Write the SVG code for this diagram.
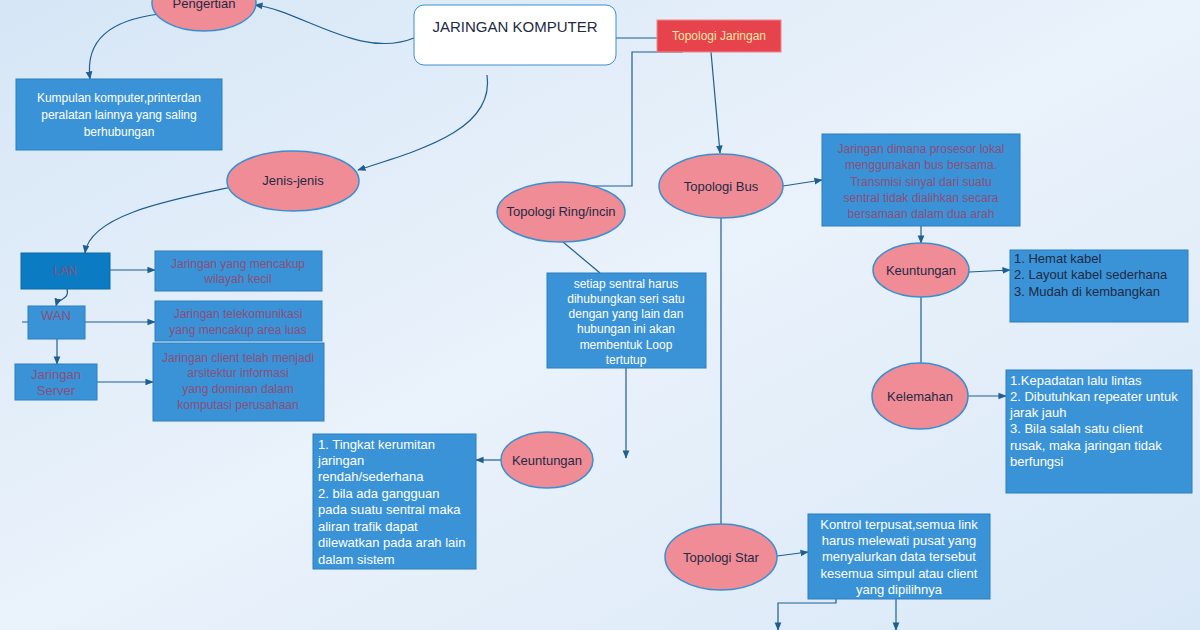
<svg xmlns="http://www.w3.org/2000/svg" width="1200" height="630" viewBox="0 0 1200 630">
<defs>
<linearGradient id="bg" x1="0" y1="0" x2="1" y2="1"><stop offset="0" stop-color="#d6e6f6"/><stop offset="0.5" stop-color="#eaf2fb"/><stop offset="1" stop-color="#d9e8f7"/></linearGradient>
<marker id="ah" viewBox="0 0 10 10" refX="9" refY="5" markerWidth="7" markerHeight="7" orient="auto"><path d="M0,1 L10,5 L0,9 z" fill="#1f5f8f"/></marker>
<style>
.bx{fill:#3b93d7;stroke:#2a7ec0;stroke-width:1}
.el{fill:#ef8c96;stroke:#3a8fd0;stroke-width:1.5}
.c{fill:none;stroke:#1f5f8f;stroke-width:1.2}
.a{marker-end:url(#ah)}
text{font-family:"Liberation Sans",Arial,sans-serif;font-size:12px;text-anchor:middle}
.w{fill:#ffffff}
.d{fill:#1f2a44;font-size:13px}
.p{fill:#8a4f7a}
</style>
</defs>
<rect width="1200" height="630" fill="url(#bg)"/>
<g id="connectors">
<path class="c a" d="M414,38 C360,60 300,10 255,5"/>
<path class="c a" d="M160,14 C110,20 85,40 90,79"/>
<path class="c a" d="M487,75 C495,130 420,150 358,170"/>
<path class="c a" d="M232,187 C170,200 90,215 85,253"/>
<line class="c" x1="616" y1="38" x2="657" y2="38"/>
<polyline class="c" points="683,52 632,52 632,186 578,186"/>
<line class="c a" x1="711" y1="52" x2="720" y2="153"/>
<line class="c a" x1="783" y1="186" x2="822" y2="180"/>
<line class="c" x1="563" y1="242" x2="600" y2="273"/>
<line class="c a" x1="626" y1="368" x2="626" y2="458"/>
<line class="c a" x1="501" y1="460" x2="476" y2="460"/>
<line class="c" x1="721" y1="218" x2="721" y2="524"/>
<line class="c a" x1="777" y1="556" x2="808" y2="552"/>
<line class="c a" x1="921" y1="226" x2="921" y2="243"/>
<line class="c" x1="921" y1="297" x2="921" y2="363"/>
<line class="c a" x1="969" y1="272" x2="1010" y2="270"/>
<line class="c a" x1="968" y1="396" x2="1006" y2="396"/>
<polyline class="c a" points="836,599 836,603 778,603 778,630"/>
<line class="c a" x1="896" y1="599" x2="896" y2="630"/>
<line class="c a" x1="110" y1="270" x2="155" y2="270"/>
<line class="c a" x1="22" y1="322" x2="155" y2="322"/>
<line class="c a" x1="97" y1="382" x2="153" y2="382"/>
<path class="c a" d="M67,289 C70,300 58,298 56,306"/>
<line class="c a" x1="57" y1="339" x2="57" y2="364"/>
</g>
<g id="pengertian"><ellipse class="el" cx="204" cy="3" rx="52" ry="28"/><text x="204" y="8" class="d">Pengertian</text></g>
<g id="jaringan-komputer"><rect x="414" y="5" width="202" height="60" rx="10" fill="#ffffff" stroke="#3a8fd0"/><text x="515" y="32" style="font-size:15px;fill:#1f2a44">JARINGAN KOMPUTER</text></g>
<g id="topologi-jaringan"><rect x="657" y="20" width="124" height="32" fill="#e6434c" stroke="#f08a8a"/><text x="719" y="40" style="fill:#f6e7a8">Topologi Jaringan</text></g>
<g id="kumpulan"><rect class="bx" x="16" y="79" width="206" height="71"/><text class="w" x="119" y="102">Kumpulan komputer,printerdan</text><text class="w" x="119" y="119">peralatan lainnya yang saling</text><text class="w" x="119" y="136">berhubungan</text></g>
<g id="jenis"><ellipse class="el" cx="293" cy="181" rx="66" ry="30"/><text x="293" y="185" class="d">Jenis-jenis</text></g>
<g id="lan"><rect x="21" y="253" width="89" height="36" fill="#0b7cc4" stroke="#0a6aa8"/><text x="65" y="275" class="p">LAN</text></g>
<g id="wan"><rect class="bx" x="28" y="306" width="57" height="33"/><text x="56" y="320" class="p" style="font-size:13px">WAN</text></g>
<g id="server"><rect class="bx" x="15" y="364" width="82" height="36"/><text x="56" y="379" class="p" style="font-size:13px">Jaringan</text><text x="56" y="395" class="p" style="font-size:13px">Server</text></g>
<g id="lan-desc"><rect class="bx" x="155" y="251" width="167" height="40"/><text x="238" y="268" class="p">Jaringan yang mencakup</text><text x="238" y="283" class="p">wilayah kecil</text></g>
<g id="wan-desc"><rect class="bx" x="155" y="301" width="167" height="40"/><text x="238" y="318" class="p">Jaringan telekomunikasi</text><text x="238" y="334" class="p">yang mencakup area luas</text></g>
<g id="server-desc"><rect class="bx" x="153" y="343" width="171" height="78"/><text x="238" y="362" class="p">Jaringan client telah menjadi</text><text x="238" y="377" class="p">arsitektur informasi</text><text x="238" y="393" class="p">yang dominan dalam</text><text x="238" y="409" class="p">komputasi perusahaan</text></g>
<g id="ring"><ellipse class="el" cx="561" cy="212" rx="64" ry="30"/><text x="561" y="216" class="d">Topologi Ring/incin</text></g>
<g id="ring-desc"><rect class="bx" x="547" y="273" width="159" height="95"/><text class="w" x="626" y="288">setiap sentral harus</text><text class="w" x="626" y="303">dihubungkan seri satu</text><text class="w" x="626" y="318">dengan yang lain dan</text><text class="w" x="626" y="333">hubungan ini akan</text><text class="w" x="626" y="349">membentuk Loop</text><text class="w" x="626" y="364">tertutup</text></g>
<g id="bus"><ellipse class="el" cx="721" cy="186" rx="62" ry="32"/><text x="721" y="191" class="d">Topologi Bus</text></g>
<g id="bus-desc"><rect class="bx" x="822" y="134" width="198" height="92"/><text x="921" y="153" class="p">Jaringan dimana prosesor lokal</text><text x="921" y="169" class="p">menggunakan bus bersama.</text><text x="921" y="186" class="p">Transmisi sinyal dari suatu</text><text x="921" y="202" class="p">sentral tidak dialihkan secara</text><text x="921" y="218" class="p">bersamaan dalam dua arah</text></g>
<g id="keuntungan-bus"><ellipse class="el" cx="921" cy="270" rx="48" ry="27"/><text x="921" y="275" class="d">Keuntungan</text></g>
<g id="keuntungan-bus-desc"><rect class="bx" x="1010" y="250" width="178" height="72"/><text x="1014" y="263" class="d" style="text-anchor:start">1. Hemat kabel</text><text x="1014" y="279" class="d" style="text-anchor:start">2. Layout kabel sederhana</text><text x="1014" y="296" class="d" style="text-anchor:start">3. Mudah di kembangkan</text></g>
<g id="kelemahan"><ellipse class="el" cx="920" cy="396" rx="48" ry="33"/><text x="920" y="401" class="d">Kelemahan</text></g>
<g id="kelemahan-desc"><rect class="bx" x="1006" y="370" width="186" height="123"/><text x="1010" y="385" class="w" style="text-anchor:start;font-size:13px">1.Kepadatan lalu lintas</text><text x="1010" y="401" class="w" style="text-anchor:start;font-size:13px">2. Dibutuhkan repeater untuk</text><text x="1010" y="417" class="w" style="text-anchor:start;font-size:13px">jarak jauh</text><text x="1010" y="433" class="w" style="text-anchor:start;font-size:13px">3. Bila salah satu client</text><text x="1010" y="450" class="w" style="text-anchor:start;font-size:13px">rusak, maka jaringan tidak</text><text x="1010" y="466" class="w" style="text-anchor:start;font-size:13px">berfungsi</text></g>
<g id="keuntungan-ring"><ellipse class="el" cx="547" cy="460" rx="46" ry="28"/><text x="547" y="465" class="d">Keuntungan</text></g>
<g id="keuntungan-ring-desc"><rect class="bx" x="313" y="434" width="163" height="135"/><text x="318" y="449" class="w" style="text-anchor:start;font-size:13px">1. Tingkat kerumitan</text><text x="318" y="465" class="w" style="text-anchor:start;font-size:13px">jaringan</text><text x="318" y="481" class="w" style="text-anchor:start;font-size:13px">rendah/sederhana</text><text x="318" y="498" class="w" style="text-anchor:start;font-size:13px">2. bila ada gangguan</text><text x="318" y="514" class="w" style="text-anchor:start;font-size:13px">pada suatu sentral maka</text><text x="318" y="531" class="w" style="text-anchor:start;font-size:13px">aliran trafik dapat</text><text x="318" y="547" class="w" style="text-anchor:start;font-size:13px">dilewatkan pada arah lain</text><text x="318" y="564" class="w" style="text-anchor:start;font-size:13px">dalam sistem</text></g>
<g id="star"><ellipse class="el" cx="721" cy="557" rx="56" ry="33"/><text x="721" y="562" class="d">Topologi Star</text></g>
<g id="star-desc"><rect class="bx" x="808" y="514" width="182" height="85"/><text class="w" x="899" y="529" style="font-size:13px">Kontrol terpusat,semua link</text><text class="w" x="899" y="545" style="font-size:13px">harus melewati pusat yang</text><text class="w" x="899" y="561" style="font-size:13px">menyalurkan data tersebut</text><text class="w" x="899" y="578" style="font-size:13px">kesemua simpul atau client</text><text class="w" x="899" y="594" style="font-size:13px">yang dipilihnya</text></g>
</svg>
